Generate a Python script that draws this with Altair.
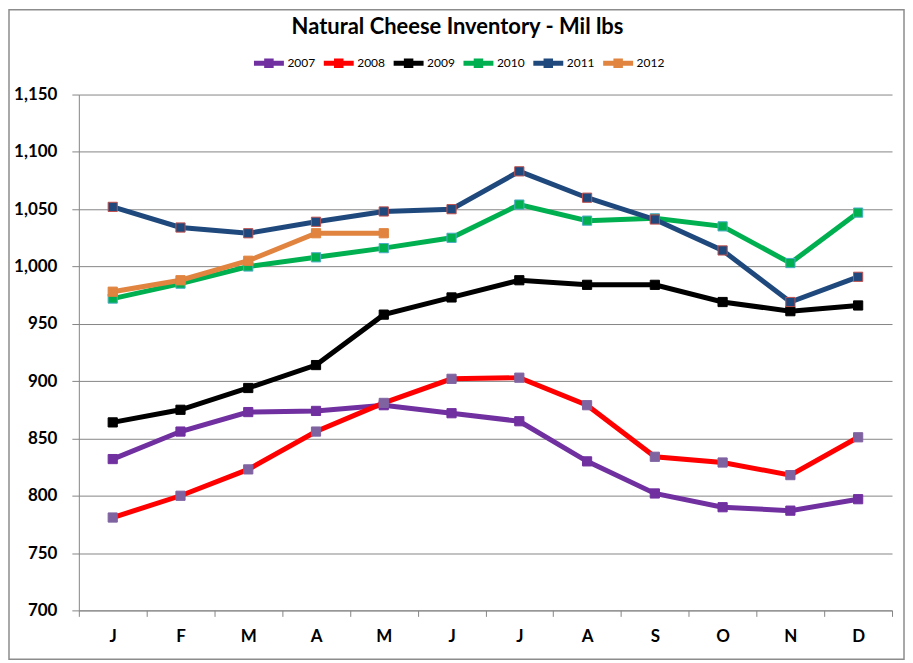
import altair as alt
import pandas as pd

months = ["Jan", "Feb", "Mar", "Apr", "May", "Jun", "Jul", "Aug", "Sep", "Oct", "Nov", "Dec"]
years = ["2007", "2008", "2009", "2010", "2011", "2012"]

y2007 = [832, 856, 873, 874, 879, 872, 865, 830, 802, 790, 787, 797]
y2008 = [781, 800, 823, 856, 881, 902, 903, 879, 834, 829, 818, 851]
y2009 = [864, 875, 894, 914, 958, 973, 988, 984, 984, 969, 961, 966]
y2010 = [972, 985, 1000, 1008, 1016, 1025, 1054, 1040, 1042, 1035, 1003, 1047]
y2011 = [1052, 1034, 1029, 1039, 1048, 1050, 1083, 1060, 1041, 1014, 969, 991]
y2012 = [978, 988, 1005, 1029, 1029]

series = [y2007, y2008, y2009, y2010, y2011, y2012]

line_colors = ["#7030A0", "#FF0000", "#000000", "#00B050", "#1F497D", "#E0843F"]
marker_fill = ["#7030A0", "#7F63A1", "#000000", "#00B050", "#1F497D", "#E0843F"]
marker_stroke = ["#7030A0", "#7F63A1", "#000000", "#4BACC6", "#C0504D", "#E0843F"]

rows = []
for yr, vals in zip(years, series):
    for m, v in zip(months, vals):
        rows.append({"Month": m, "Year": yr, "Year2": yr, "Inventory": v})
df = pd.DataFrame(rows)

W, H = 815, 517
GRID = "#868686"
FONT = "Lato"

x_enc = alt.X(
    "Month:O",
    sort=months,
    scale=alt.Scale(type="band", paddingInner=0, paddingOuter=0),
    bandPosition=0.5,
    axis=alt.Axis(
        title=None, tickBand="extent", labelExpr="substring(datum.label, 0, 1)",
        labelAngle=0, labelFont=FONT, labelFontSize=17, labelFontWeight="bold",
        labelColor="#000000", labelPadding=12, tickSize=6, tickColor=GRID,
        domainColor=GRID, grid=False,
    ),
)
y_enc = alt.Y(
    "Inventory:Q",
    scale=alt.Scale(domain=[700, 1150], nice=False, zero=False),
    axis=alt.Axis(
        title=None, values=list(range(700, 1151, 50)), format=",.0f",
        labelFont=FONT, labelFontSize=17, labelFontWeight="bold",
        labelColor="#000000", labelPadding=15, tickSize=7, tickColor=GRID,
        domainColor=GRID, grid=True, gridColor=GRID, gridWidth=1,
    ),
)

base = alt.Chart(df)

lines = base.mark_line(strokeWidth=5).encode(
    x=x_enc, y=y_enc,
    color=alt.Color(
        "Year:N", scale=alt.Scale(domain=years, range=line_colors),
        legend=alt.Legend(
            symbolType="M-1,0H1M-0.15,-0.15H0.15V0.15H-0.15Z", symbolStrokeWidth=5,
            orient="none", legendX=173, legendY=-49, direction="horizontal", columns=6,
            title=None, symbolSize=900, labelFont=FONT, labelFontSize=12,
            labelColor="#000000", labelOffset=1, columnPadding=-2, padding=0,
        ),
    ),
)

markers = base.mark_square(size=85, filled=True, opacity=1, strokeWidth=1).encode(
    x=x_enc, y=y_enc,
    fill=alt.Fill("Year2:N", scale=alt.Scale(domain=years, range=marker_fill), legend=None),
    stroke=alt.Stroke("Year2:N", scale=alt.Scale(domain=years, range=marker_stroke), legend=None),
)

border = alt.Chart(alt.Data(values=[{}])).mark_rect(
    filled=False, stroke="#8C8C8C", strokeWidth=1.5
).encode(
    x=alt.value(-70), x2=alt.value(827), y=alt.value(-85), y2=alt.value(566)
)

chart = alt.layer(border, lines, markers).properties(
    width=W, height=H,
    title=alt.TitleParams(
        "Natural Cheese Inventory  - Mil lbs", font=FONT, fontSize=22,
        fontWeight="bold", color="#000000", anchor="middle", dx=-28, dy=34,
    ),
    autosize=alt.AutoSizeParams(type="none"),
    padding={"left": 71, "top": 86, "right": 13, "bottom": 50},
).configure_view(strokeWidth=0)

chart.save("out.html", embed_options={"renderer": "svg", "actions": False})
